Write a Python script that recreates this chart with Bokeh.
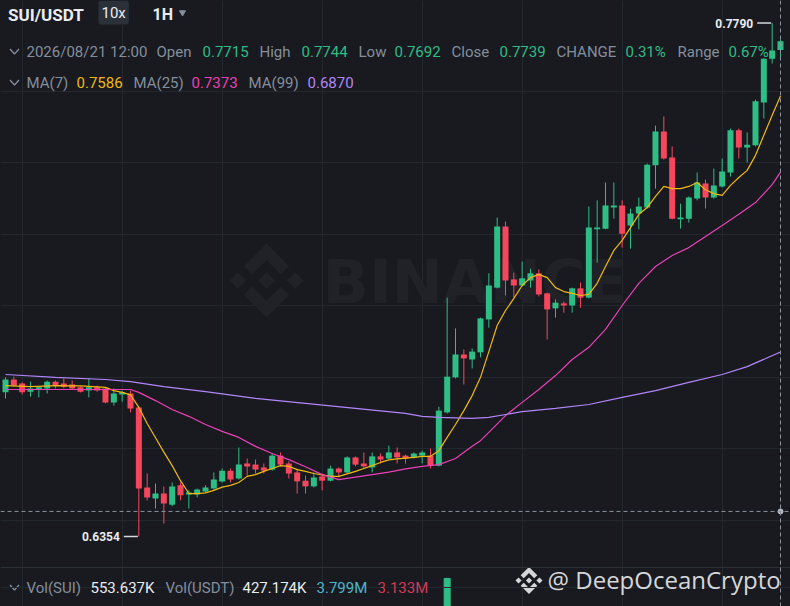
from bokeh.plotting import figure
from bokeh.models import Range1d, Label, Span, FixedTicker, Grid, GlobalInlineStyleSheet
from bokeh.core.properties import value
from bokeh.embed import file_html
from bokeh.resources import INLINE

# ---------------- data (1H candles, SUI/USDT) ----------------
hour_index = list(range(94))
opens = [0.6757, 0.6793, 0.6782, 0.6759, 0.6765, 0.6768, 0.6787, 0.6782, 0.6779, 0.6771,
         0.6762, 0.6771, 0.6768, 0.6729, 0.6751, 0.6754, 0.6715, 0.6491, 0.6460, 0.6474,
         0.6443, 0.6497, 0.6471, 0.6471, 0.6480, 0.6488, 0.6508, 0.6538, 0.6516, 0.6558,
         0.6555, 0.6547, 0.6541, 0.6580, 0.6558, 0.6533, 0.6510, 0.6494, 0.6522, 0.6510,
         0.6544, 0.6533, 0.6575, 0.6558, 0.6547, 0.6578, 0.6572, 0.6589, 0.6580, 0.6575,
         0.6580, 0.6580, 0.6552, 0.6701, 0.6799, 0.6863, 0.6849, 0.6869, 0.6961, 0.7050,
         0.7221, 0.7073, 0.7056, 0.7070, 0.7090, 0.7034, 0.6992, 0.7006, 0.7000, 0.7048,
         0.7022, 0.7213, 0.7215, 0.7274, 0.7280, 0.7224, 0.7257, 0.7274, 0.7392, 0.7487,
         0.7414, 0.7241, 0.7243, 0.7299, 0.7341, 0.7302, 0.7333, 0.7372, 0.7490, 0.7442,
         0.7448, 0.7568, 0.7690, 0.7715]
highs = [0.6799, 0.6801, 0.6785, 0.6787, 0.6773, 0.6790, 0.6790, 0.6796, 0.6790, 0.6773,
         0.6796, 0.6776, 0.6771, 0.6768, 0.6762, 0.6762, 0.6717, 0.6530, 0.6502, 0.6494,
         0.6505, 0.6505, 0.6483, 0.6488, 0.6497, 0.6533, 0.6544, 0.6544, 0.6603, 0.6572,
         0.6569, 0.6558, 0.6586, 0.6589, 0.6564, 0.6544, 0.6524, 0.6533, 0.6530, 0.6552,
         0.6547, 0.6578, 0.6578, 0.6589, 0.6589, 0.6586, 0.6608, 0.6603, 0.6583, 0.6589,
         0.6594, 0.6600, 0.6717, 0.7022, 0.6936, 0.6877, 0.6880, 0.6966, 0.7090, 0.7246,
         0.7235, 0.7092, 0.7123, 0.7103, 0.7101, 0.7036, 0.7017, 0.7011, 0.7050, 0.7064,
         0.7277, 0.7294, 0.7344, 0.7344, 0.7294, 0.7271, 0.7302, 0.7397, 0.7503, 0.7529,
         0.7445, 0.7285, 0.7305, 0.7372, 0.7352, 0.7383, 0.7411, 0.7495, 0.7495, 0.7484,
         0.7576, 0.7692, 0.7790, 0.7744]
lows = [0.6740, 0.6773, 0.6751, 0.6745, 0.6743, 0.6754, 0.6768, 0.6768, 0.6765, 0.6757,
        0.6743, 0.6759, 0.6726, 0.6720, 0.6731, 0.6701, 0.6354, 0.6455, 0.6432, 0.6390,
        0.6438, 0.6455, 0.6432, 0.6463, 0.6477, 0.6485, 0.6505, 0.6505, 0.6513, 0.6524,
        0.6530, 0.6530, 0.6538, 0.6550, 0.6516, 0.6474, 0.6474, 0.6491, 0.6483, 0.6508,
        0.6519, 0.6530, 0.6550, 0.6544, 0.6533, 0.6558, 0.6569, 0.6558, 0.6558, 0.6572,
        0.6558, 0.6544, 0.6550, 0.6698, 0.6796, 0.6779, 0.6824, 0.6855, 0.6938, 0.7048,
        0.7028, 0.7022, 0.7053, 0.7050, 0.7025, 0.6905, 0.6966, 0.6980, 0.6980, 0.6994,
        0.7020, 0.7120, 0.7213, 0.7243, 0.7162, 0.7159, 0.7213, 0.7271, 0.7327, 0.7408,
        0.7241, 0.7215, 0.7232, 0.7294, 0.7271, 0.7299, 0.7330, 0.7361, 0.7411, 0.7400,
        0.7445, 0.7523, 0.7677, 0.7692]
closes = [0.6793, 0.6776, 0.6757, 0.6768, 0.6771, 0.6787, 0.6776, 0.6773, 0.6768, 0.6759,
          0.6771, 0.6762, 0.6729, 0.6754, 0.6757, 0.6712, 0.6488, 0.6463, 0.6474, 0.6446,
          0.6494, 0.6469, 0.6477, 0.6485, 0.6491, 0.6513, 0.6538, 0.6513, 0.6555, 0.6550,
          0.6541, 0.6538, 0.6580, 0.6555, 0.6530, 0.6508, 0.6494, 0.6519, 0.6510, 0.6544,
          0.6533, 0.6575, 0.6555, 0.6550, 0.6578, 0.6569, 0.6589, 0.6575, 0.6572, 0.6586,
          0.6589, 0.6552, 0.6706, 0.6801, 0.6863, 0.6852, 0.6871, 0.6964, 0.7056, 0.7221,
          0.7070, 0.7056, 0.7076, 0.7090, 0.7031, 0.6989, 0.7008, 0.7000, 0.7048, 0.7022,
          0.7218, 0.7218, 0.7280, 0.7280, 0.7201, 0.7257, 0.7277, 0.7394, 0.7487, 0.7411,
          0.7243, 0.7246, 0.7302, 0.7344, 0.7302, 0.7336, 0.7375, 0.7490, 0.7442, 0.7450,
          0.7571, 0.7690, 0.7713, 0.7739]

ma7_index = [0, 3, 6, 9] + list(range(12, 94))
ma7_values = [0.6776, 0.6773, 0.6776, 0.6775,
              0.6771, 0.6762, 0.6757, 0.6750, 0.6715, 0.6670, 0.6630, 0.6590, 0.6552, 0.6510,
              0.6474, 0.6474, 0.6476, 0.6483, 0.6492, 0.6497, 0.6505, 0.6522, 0.6527, 0.6536,
              0.6544, 0.6552, 0.6550, 0.6541, 0.6536, 0.6530, 0.6526, 0.6522, 0.6522, 0.6529,
              0.6536, 0.6544, 0.6552, 0.6561, 0.6568, 0.6571, 0.6573, 0.6575, 0.6578, 0.6578,
              0.6594, 0.6631, 0.6667, 0.6706, 0.6748, 0.6799, 0.6871, 0.6944, 0.6986, 0.7020,
              0.7056, 0.7078, 0.7087, 0.7078, 0.7050, 0.7039, 0.7034, 0.7028, 0.7031, 0.7062,
              0.7109, 0.7154, 0.7182, 0.7218, 0.7255, 0.7274, 0.7305, 0.7333, 0.7327, 0.7327,
              0.7333, 0.7344, 0.7324, 0.7313, 0.7308, 0.7336, 0.7358, 0.7378, 0.7420, 0.7476,
              0.7532, 0.7586]
ma25_index = [0, 6, 12, 15, 16, 18, 20, 22, 24, 26, 28, 30, 32, 34, 36, 38, 40, 42, 44, 46,
              48, 50, 52, 54, 56, 57, 58, 60, 62, 64, 66, 68, 70, 72, 74, 76, 78, 80, 82, 84,
              86, 88, 90, 91, 92, 93]
ma25_values = [0.6765, 0.6765, 0.6765, 0.6765, 0.6757, 0.6734, 0.6709, 0.6690, 0.6667, 0.6648,
               0.6631, 0.6606, 0.6586, 0.6569, 0.6549, 0.6527, 0.6513, 0.6520, 0.6527, 0.6534,
               0.6543, 0.6550, 0.6555, 0.6572, 0.6606, 0.6622, 0.6645, 0.6692, 0.6729, 0.6765,
               0.6804, 0.6849, 0.6883, 0.6933, 0.7000, 0.7062, 0.7109, 0.7140, 0.7162, 0.7193,
               0.7224, 0.7255, 0.7288, 0.7313, 0.7338, 0.7373]
ma99_index = [0, 6, 12, 15, 19, 24, 30, 36, 42, 48, 50, 52, 56, 58, 62, 66, 70, 74, 78, 82,
              86, 89, 93]
ma99_values = [0.6807, 0.6799, 0.6793, 0.6787, 0.6773, 0.6759, 0.6740, 0.6726, 0.6712, 0.6698,
               0.6690, 0.6687, 0.6684, 0.6687, 0.6703, 0.6712, 0.6723, 0.6743, 0.6762, 0.6785,
               0.6807, 0.6829, 0.6870]

volume_index = [53]
volume_values_m = [13.5]

price_grid = [0.64, 0.66, 0.68, 0.70, 0.72, 0.74, 0.76]
time_grid = [2, 14, 26, 38, 50, 62, 74, 86]
crosshair_index = 93
crosshair_price = 0.6424

pair_label = "SUI/USDT"
leverage_label = "10x"
interval_label = "1H"
timestamp_label = "2026/08/21 12:00"
ohlc_fields = ["Open", "High", "Low", "Close", "CHANGE", "Range"]
ohlc_values = ["0.7715", "0.7744", "0.7692", "0.7739", "0.31%", "0.67%"]
ma_fields = ["MA(7)", "MA(25)", "MA(99)"]
ma_latest = ["0.7586", "0.7373", "0.6870"]
vol_fields = ["Vol(SUI)", "Vol(USDT)"]
vol_latest = ["553.637K", "427.174K", "3.799M", "3.133M"]
watermark = "BINANCE"
credit = "@ DeepOceanCrypto"

# ---------------- styling / geometry ----------------
BG = "#181A20"
GRID = "#23272E"
GREEN = "#2EBD85"
RED = "#F6465D"
GRAY = "#848E9C"
WHITE = "#EAECEF"
MA_COLORS = ["#F0B90B", "#EB40B5", "#B385F8"]
FONT = "Roboto"

W, H = 790, 606
OFF = 0
CANDLE_PX = 100.0 / 12.0
PRICE_PX = 71.5 / 0.02


def dx(X):
    return (X - 5) / CANDLE_PX


def dy(Y):
    return 0.66 + (448 - Y) / PRICE_PX


p = figure(width=W, height=H, x_range=Range1d(dx(OFF), dx(OFF + W)),
           y_range=Range1d(dy(OFF + H), dy(OFF)), x_axis_type=None, y_axis_type=None,
           toolbar_location=None, output_backend="svg", min_border=0,
           background_fill_color=BG, border_fill_color=BG, outline_line_color=None)
p.stylesheets = [GlobalInlineStyleSheet(css="html, body { background: #181A20; }")]

p.add_layout(Grid(dimension=0, ticker=FixedTicker(ticks=time_grid), grid_line_color=GRID))
p.add_layout(Grid(dimension=1, ticker=FixedTicker(ticks=price_grid), grid_line_color=GRID))

# ---- watermark (Binance logo + word) ----
LOGO = [
    [(38.73, 53.2), (63.3, 28.63), (87.89, 53.22), (102.19, 38.92), (63.3, 0), (24.42, 38.9)],
    [(0, 63.31), (14.3, 49.01), (28.6, 63.31), (14.3, 77.61)],
    [(38.73, 73.41), (63.3, 97.98), (87.89, 73.39), (102.2, 87.69), (63.3, 126.61), (24.41, 87.7)],
    [(98, 63.31), (112.3, 49.01), (126.6, 63.31), (112.3, 77.61)],
    [(77.83, 63.3), (63.3, 48.76), (48.77, 63.29), (63.3, 77.83)],
]


def draw_logo(cx_ref, cy_ref, size_px, color):
    s = size_px / 126.61
    xs = [[dx(cx_ref + (u - 63.3) * s) for u, v in part] for part in LOGO]
    ys = [[dy(cy_ref + (v - 63.3) * s) for u, v in part] for part in LOGO]
    p.patches(xs, ys, fill_color=color, line_color=None)


draw_logo(266, 280, 74, "#202228")
p.text(x=[dx(322)], y=[dy(281)], text=[watermark], text_font=value("DejaVu Sans"),
       text_font_style="bold", text_font_size="61px", text_color="#202228",
       text_baseline="middle", text_align="left")

# ---- candles ----
colors = [GREEN if c >= o else RED for o, c in zip(opens, closes)]
tops = [max(o, c) for o, c in zip(opens, closes)]
bots = [min(o, c) for o, c in zip(opens, closes)]
tops = [max(t, b + 1.0 / PRICE_PX) for t, b in zip(tops, bots)]
p.segment(x0=hour_index, y0=lows, x1=hour_index, y1=highs, line_color=colors, line_width=1)
p.vbar(x=hour_index, top=tops, bottom=bots, width=0.72, fill_color=colors, line_color=None)

# ---- moving averages ----
for idx, vals, col in zip([ma7_index, ma25_index, ma99_index],
                          [ma7_values, ma25_values, ma99_values], MA_COLORS):
    p.line(idx, vals, line_color=col, line_width=1.2)

# ---- volume pane ----
VOL_ZERO_Y = 640
VOL_PX_PER_M = 4.6
p.extra_y_ranges = {"vol": Range1d((VOL_ZERO_Y - (OFF + H)) / VOL_PX_PER_M,
                                   (VOL_ZERO_Y - OFF) / VOL_PX_PER_M)}
p.vbar(x=volume_index, top=volume_values_m, bottom=0, width=0.72, color=GREEN,
       y_range_name="vol")
p.add_layout(Span(location=dy(567), dimension="width", line_color="#2B2F36", line_width=1))
p.add_layout(Span(location=dy(587), dimension="width", line_color=GRID, line_width=1))

# ---- crosshair ----
p.add_layout(Span(location=crosshair_price, dimension="width", line_color="#8E949C",
                  line_dash="4 3", line_width=1))
p.add_layout(Span(location=crosshair_index, dimension="height", line_color="#8E949C",
                  line_dash="4 3", line_width=1))
p.scatter([crosshair_index], [crosshair_price], size=5, color="#B7BDC6")

# ---- max / min markers ----
imax = highs.index(max(highs))
imin = lows.index(min(lows))
for i, v in [(imax, highs[imax]), (imin, lows[imin])]:
    p.segment(x0=[i - 15 / CANDLE_PX], y0=[v], x1=[i - 1 / CANDLE_PX], y1=[v],
              line_color="#D5D8DC", line_width=1.5)
    p.add_layout(Label(x=i, y=v, x_offset=-19, text=f"{v:.4f}", text_align="right",
                       text_baseline="middle", text_color=WHITE, text_font=FONT,
                       text_font_style="bold", text_font_size="12px"))


# ---- header texts ----
def add_text(text, X, Y, color, size=15, bold=False, font=FONT, **kw):
    p.add_layout(Label(x=X - OFF, y=OFF + H - Y, x_units="screen", y_units="screen",
                       text=text, text_color=color, text_font=font,
                       text_font_size=f"{size}px",
                       text_font_style="bold" if bold else "normal",
                       text_baseline="middle", text_align="left", **kw))


def chevron(Yc):
    p.line([dx(9.5), dx(14), dx(18.5)], [dy(Yc - 2.5), dy(Yc + 2.5), dy(Yc - 2.5)],
           line_color=GRAY, line_width=1.3)


add_text(pair_label, 7.5, 14, WHITE, 17, bold=True)
add_text(leverage_label, 98, 12, WHITE, 15, background_fill_color="#2B3139",
         padding=3, border_radius=3)
add_text(interval_label, 152, 14, WHITE, 16, bold=True)
p.scatter([dx(182)], [dy(12)], marker="inverted_triangle", size=6, color=GRAY)

chevron(51)
add_text(timestamp_label, 26, 51, GRAY)
field_x = [156, 259, 358, 451, 556, 677]
value_x = [202, 301, 394, 499, 625, 728]
for f, fx, v, vx in zip(ohlc_fields, field_x, ohlc_values, value_x):
    add_text(f, fx, 51, GRAY)
    add_text(v, vx, 51, GREEN)

chevron(82)
for f, fx, v, vx, col in zip(ma_fields, [26, 133, 248], ma_latest, [76, 191, 307], MA_COLORS):
    add_text(f, fx, 82, GRAY)
    add_text(v, vx, 82, col)

chevron(587)
add_text(vol_fields[0], 26, 587, GRAY)
add_text(vol_latest[0], 90, 587, WHITE)
add_text(vol_fields[1], 165, 587, GRAY)
add_text(vol_latest[1], 242, 587, WHITE)
add_text(vol_latest[2], 316, 587, "#4DB6CC")
add_text(vol_latest[3], 377, 587, "#D03A58")

# ---- credit ----
draw_logo(528.5, 580, 27, "#D5D6D8")
add_text(credit, 547, 579, "#D5D6D8", 24, font="Open Sans")

open("out.html", "w").write(file_html(p, INLINE))
